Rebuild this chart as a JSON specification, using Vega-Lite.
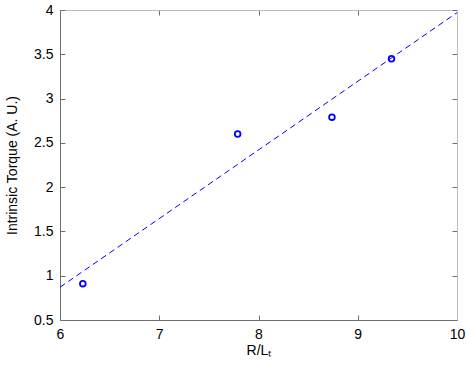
{
  "$schema": "https://vega.github.io/schema/vega-lite/v6.json",
  "width": 397,
  "height": 310,
  "autosize": {"type": "none"},
  "padding": {"left": 60, "top": 10, "right": 9, "bottom": 50},
  "background": "white",
  "config": {
    "view": {"stroke": null},
    "axis": {
      "labelFont": "Liberation Sans",
      "titleFont": "Liberation Sans",
      "labelFontSize": 14,
      "titleFontSize": 14,
      "labelColor": "#000",
      "titleColor": "#000",
      "titleFontWeight": "normal",
      "grid": false,
      "tickSize": -5,
      "domainColor": "#6e6e6e",
      "tickColor": "#6e6e6e",
      "format": "~f"
    }
  },
  "datasets": {
    "pts": [
      {"x": 6.23, "y": 0.91},
      {"x": 7.79, "y": 2.6},
      {"x": 8.74, "y": 2.79},
      {"x": 9.34, "y": 3.45}
    ],
    "fit": [
      {"x": 6, "y": 0.87},
      {"x": 10, "y": 3.97}
    ]
  },
  "resolve": {"axis": {"x": "independent", "y": "independent"}},
  "layer": [
    {
      "data": {"name": "fit"},
      "mark": {"type": "line", "color": "#0000ff", "strokeWidth": 1, "strokeDash": [6, 4], "clip": true},
      "encoding": {
        "x": {"field": "x", "type": "quantitative", "scale": {"domain": [6, 10], "nice": false, "zero": false},
          "axis": {"title": "R/Lₜ", "values": [6, 7, 8, 9, 10], "format": "~f", "labelPadding": 12, "titlePadding": 2, "labelFlush": false}},
        "y": {"field": "y", "type": "quantitative", "scale": {"domain": [0.5, 4], "nice": false, "zero": false},
          "axis": {"title": "Intrinsic Torque (A. U.)", "values": [0.5, 1, 1.5, 2, 2.5, 3, 3.5, 4], "format": "~f", "labelPadding": 12, "titlePadding": 14, "labelFlush": false}}
      }
    },
    {
      "data": {"name": "pts"},
      "mark": {"type": "point", "shape": "circle", "filled": false, "color": "#0000ff", "opacity": 1, "size": 32, "strokeWidth": 1.8},
      "encoding": {
        "x": {"field": "x", "type": "quantitative",
          "axis": {"orient": "top", "title": null, "labels": false, "values": [6, 7, 8, 9, 10], "domainColor": "#bdbdbd", "tickColor": "#6e6e6e"}},
        "y": {"field": "y", "type": "quantitative",
          "axis": {"orient": "right", "title": null, "labels": false, "values": [0.5, 1, 1.5, 2, 2.5, 3, 3.5, 4], "domainColor": "#bdbdbd", "tickColor": "#6e6e6e"}}
      }
    }
  ]
}
